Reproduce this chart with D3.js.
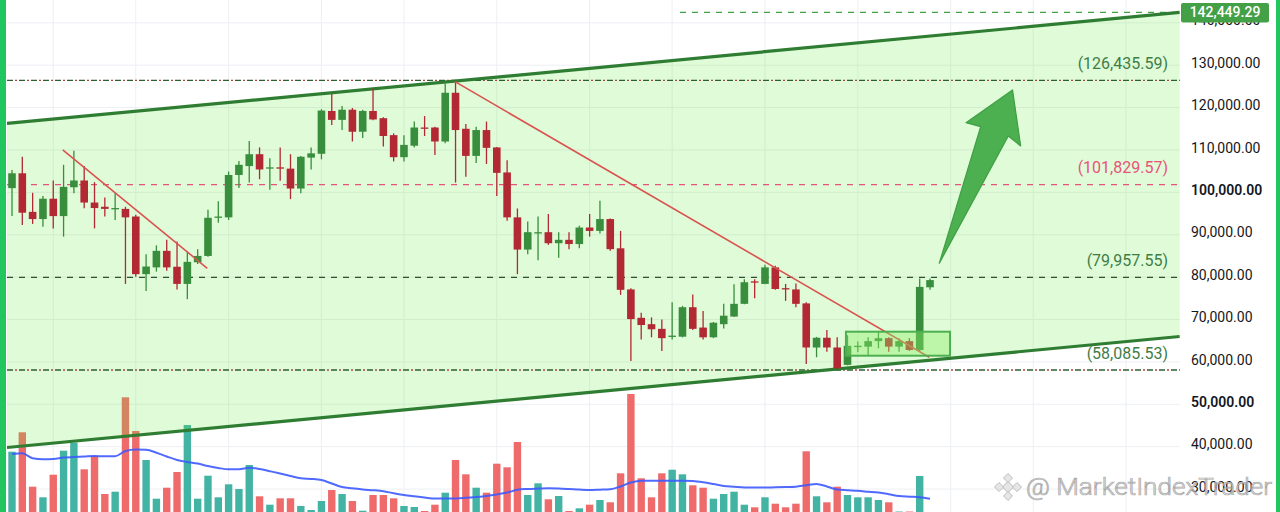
<!DOCTYPE html>
<html><head><meta charset="utf-8">
<script src="https://cdn.jsdelivr.net/npm/d3@7"></script>
<style>html,body{margin:0;padding:0;background:#fff;overflow:hidden}</style>
</head><body><svg id="c" width="1280" height="512"></svg>
<script>
// ---------- DATA ----------
const opens = [
101000,104500,95400,93700,98500,94400,101200,102800,97600,96600,
96000,96100,94300,80700,82300,86200,82450,78400,83500,85000,
94000,94100,104100,106200,109000,105600,105900,105600,100900,108200,
109100,119200,117100,119500,114300,119200,117500,113500,108300,111000,
115300,115300,112000,123500,115000,108600,114700,110600,104700,94100,
86500,90400,90600,88000,88800,87800,91700,90900,93700,86800,
77100,70400,68900,67800,65900,65950,72900,68100,65800,68900,
70700,73700,79000,78400,82300,77400,77100,73800,63400,65700,
63400,59300,63600,63600,64900,65600,63600,64900,62800,77600];
const highs = [
105300,108400,99900,99150,102800,106500,109800,106200,102400,98800,
99800,96600,94700,85400,87500,88800,88400,86000,86600,95900,
97900,104900,107400,112100,110600,108050,110600,109000,108600,110600,
119600,123200,120400,119900,119500,124500,117700,113900,113500,116700,
118000,115500,125700,126400,116100,115500,116700,110700,107600,96200,
93100,94300,94900,90600,90600,92100,94900,98000,93850,90900,
77400,71600,70500,70000,74100,73200,75900,72000,69400,73700,
78300,79500,79500,82900,82700,78400,78500,74100,65900,67500,
65800,66300,64800,65800,67100,65800,65600,65600,79700,79700];
const lows = [
94400,92300,92550,91900,91500,89550,99800,96250,91500,94300,
93500,78400,80100,76700,81300,81500,77100,74800,83100,84800,
92850,93500,101000,102300,103100,100600,102760,98400,99800,105400,
107800,115900,114700,112000,112800,117000,110800,107300,107300,110600,
113300,108800,111600,102300,103700,106900,106700,99150,93300,80700,
85400,84000,87600,84600,86600,86800,89550,90300,86200,75800,
60200,65300,65800,62600,65300,65800,67500,65300,65600,67900,
70600,73600,75000,78300,77000,74400,72900,59500,61100,62400,
58300,59200,62300,61500,63200,62400,62400,62600,62600,77000];
const closes = [
104500,95200,93700,98500,94400,101300,102800,97600,96300,96100,
96300,94100,80700,82500,86200,82300,78400,83600,85000,94000,
94300,104100,106500,109000,105400,105900,105600,100900,108400,109200,
119300,117100,119500,114300,119200,117200,113300,108300,111200,115300,
115000,112000,123500,114700,108600,114700,110500,104600,94100,86500,
90600,90600,88000,88800,87800,91700,90900,93700,86600,77000,
70100,68700,67700,65600,66200,72900,67800,65800,69250,70900,
73700,78800,78700,82300,77200,77100,73700,63400,65700,63400,
58500,63800,63800,64900,65600,63600,64900,62800,77700,79300];
const volumes = [
60.3,79.7,25.3,14.7,37.3,61.3,69.3,42.7,56,18,
20.3,114.7,81,52,13.3,24.3,40,87,13.3,36.3,
14.7,27.7,23,47,15.7,7.3,13.7,13.7,6,2,
11,22,18,11,1.3,17,17,13.7,6,5,
1,7.3,19.3,52,37.7,24.3,19.3,48.3,44.7,70,
17,28.7,12.7,16,1,3.7,7.3,12,9.7,38.7,
118,33.7,14.7,38.7,42.3,37.7,26.7,24.3,13.3,18,
20.3,7.3,4.7,14.7,8.3,4.7,8.3,60.7,15.7,9.7,
25.3,17,14.7,14.7,12,9.7,0.5,0.5,36,0];
const volumeMA = [
58,58.7,53.8,52.8,53,54.5,55,55.5,56,55.7,
55.8,61,62.5,62.2,59.3,55.5,52,50,48.4,46,
44,42.7,42.7,44.3,43,40.8,38.5,36,33.7,33.1,
32,28.5,25,23.7,22.5,21.8,20.8,18.7,17,15.7,
14.5,13.4,13.4,13.6,14.2,15,16,17.5,19.4,22.2,
23,23.4,23.7,23.5,23,22.4,22,22.3,22.7,25.5,
29.5,31.3,31.3,31.3,31.3,31.3,31,29.8,28,26,
25.3,24.6,24.4,24.5,24.7,25,25.3,26.8,28,25.5,
22.5,21.8,21.2,20.3,19.4,17.8,16,15.3,14.8,13.3];
const priceTicks = [140000,130000,120000,110000,100000,90000,80000,70000,60000,50000,40000,30000];
const boldTicks = [100000,50000];
const monthGridIdx = [4,12,21,30,38,47,56,64,73,82,91,99,108];
const levels = [126435.59, 101829.57, 79957.55, 58085.53];
const levelLabels = ["(126,435.59)","(101,829.57)","(79,957.55)","(58,085.53)"];
const targetPrice = 142449.29;
const upperChannel = [[-0.485,116253],[113.2,142449.29]];
const lowerChannel = [[-0.485,39802],[113.2,65993]];
const trendLine1 = [[4.92,110000],[18.93,82086]];
const trendLine2 = [[42.95,126115],[88.93,61085]];
const rangeBox = [[80.85,67126],[90.94,61463]];
const arrowPts = [[89.9,83266],[93.91,115497],[92.49,116443],[97.0,124157],[97.79,110943],[96.59,113302]];

// ---------- SCALES ----------
const svg = d3.select("#c");
const plotL = 7, plotR = 1180, H = 512;
const x = d3.scaleLinear().domain([0,108]).range([12,1126]);
const y = d3.scaleLinear().domain([60000,130000]).range([361.9,65.2]);
const yv = d3.scaleLinear().domain([0,130]).range([512,382]);
const UP="#388e3c", DOWN="#b22833", VUP="#43b3a4", VDOWN="#ef6b6b";
const P = p => [x(p[0]), y(p[1])];

svg.append("rect").attr("width",1280).attr("height",512).attr("fill","#fff");
svg.append("defs").append("clipPath").attr("id","plot")
  .append("rect").attr("x",plotL).attr("y",0).attr("width",plotR-plotL).attr("height",H);
const g = svg.append("g").attr("clip-path","url(#plot)");

// grid
g.append("g").selectAll("line").data(priceTicks).join("line")
  .attr("x1",plotL).attr("x2",plotR).attr("y1",d=>y(d)).attr("y2",d=>y(d))
  .attr("stroke","#eceff3").attr("stroke-width",1);
g.append("g").selectAll("line").data(monthGridIdx).join("line")
  .attr("x1",d=>x(d)).attr("x2",d=>x(d)).attr("y1",0).attr("y2",H)
  .attr("stroke","#eceff3").attr("stroke-width",1);

// volume
const idx = d3.range(opens.length);
g.append("g").selectAll("rect").data(idx.filter(i=>volumes[i]>0)).join("rect")
  .attr("x",i=>x(i)-3.7).attr("width",7.4)
  .attr("y",i=>yv(volumes[i])).attr("height",i=>H+4-yv(volumes[i]))
  .attr("fill",i=>closes[i]>=opens[i]?VUP:VDOWN);
g.append("path").datum(idx)
  .attr("d",d3.line().x(i=>x(i)).y(i=>yv(volumeMA[i])).curve(d3.curveMonotoneX))
  .attr("fill","none").attr("stroke","#3d5afe").attr("stroke-width",2).attr("opacity",0.9);

// channel fill
g.append("path")
  .attr("d", d3.line()([P(upperChannel[0]),P(upperChannel[1]),P(lowerChannel[1]),P(lowerChannel[0])])+"Z")
  .attr("fill","rgba(100,235,60,0.2)");

// horizontal levels
function hline(v, color, dash, offset, x0){
  g.append("line").attr("x1",x0!==undefined?x0:plotL).attr("x2",plotR)
   .attr("y1",y(v)).attr("y2",y(v)).attr("stroke",color).attr("stroke-width",1.3)
   .attr("stroke-dasharray",dash).attr("stroke-dashoffset",offset||0);
}
hline(levels[0],"#2f5e34","6 6");
hline(levels[0],"#b5453f","2 10",-8);
hline(levels[1],"#e8537a","6 6");
hline(levels[2],"#2f4f33","6 6");
hline(levels[3],"#2f5e34","6 6");
hline(levels[3],"#b5453f","2 10",-8);
hline(targetPrice,"#43a047","6 6",0,680);

// channel lines
[upperChannel, lowerChannel].forEach(c=>{
  g.append("line").attr("x1",P(c[0])[0]).attr("y1",P(c[0])[1]).attr("x2",P(c[1])[0]).attr("y2",P(c[1])[1])
   .attr("stroke","#2e7d32").attr("stroke-width",3.2);
});

// candles
const cg = g.append("g");
cg.selectAll("line").data(idx).join("line")
  .attr("x1",i=>x(i)).attr("x2",i=>x(i)).attr("y1",i=>y(highs[i])).attr("y2",i=>y(lows[i]))
  .attr("stroke",i=>closes[i]>=opens[i]?UP:DOWN).attr("stroke-width",1.3);
cg.selectAll("rect").data(idx).join("rect")
  .attr("x",i=>x(i)-3.8).attr("width",7.6)
  .attr("y",i=>y(Math.max(opens[i],closes[i])))
  .attr("height",i=>Math.max(1.3, Math.abs(y(opens[i])-y(closes[i]))))
  .attr("fill",i=>closes[i]>=opens[i]?UP:DOWN);

// trend lines
[trendLine1, trendLine2].forEach(t=>{
  g.append("line").attr("x1",P(t[0])[0]).attr("y1",P(t[0])[1]).attr("x2",P(t[1])[0]).attr("y2",P(t[1])[1])
   .attr("stroke","#d9534f").attr("stroke-width",1.6);
});

// range box
g.append("rect").attr("x",x(rangeBox[0][0])).attr("y",y(rangeBox[0][1]))
  .attr("width",x(rangeBox[1][0])-x(rangeBox[0][0])).attr("height",y(rangeBox[1][1])-y(rangeBox[0][1]))
  .attr("fill","rgba(140,240,100,0.4)").attr("stroke","#4caf50").attr("stroke-width",2);

// arrow
g.append("path").attr("d",d3.line().curve(d3.curveLinearClosed)(arrowPts.map(P)))
  .attr("fill","#4caf50").attr("stroke","#3f9f44").attr("stroke-width",1.2).attr("stroke-linejoin","round");

// level labels
svg.append("g").selectAll("text").data(levels).join("text")
  .attr("x",1168).attr("y",d=>y(d)-11.5).attr("text-anchor","end")
  .attr("font-family","Roboto, 'Noto Sans', sans-serif").attr("font-size",16)
  .attr("fill",(d,i)=>i===1?"#e8537a":"#3f7d46")
  .text((d,i)=>levelLabels[i]);

// price axis
const axis = d3.axisRight(y).tickValues(priceTicks).tickSize(0).tickPadding(0)
  .tickFormat(d3.format(",.2f"));
const ag = svg.append("g").attr("transform","translate(1191,0)").call(axis);
ag.select(".domain").remove();
ag.selectAll("text").attr("font-family","Roboto, 'Noto Sans', sans-serif").attr("font-size",14)
  .attr("fill","#131722").attr("dy","0.15em")
  .attr("font-weight",d=>boldTicks.includes(d)?600:400);

// target price box
const ty = y(targetPrice);
svg.append("rect").attr("x",1181).attr("y",ty-9.5).attr("width",88).attr("height",19.5).attr("rx",2)
  .attr("fill","#43a047");
svg.append("text").attr("x",1225).attr("y",ty+5).attr("text-anchor","middle")
  .attr("font-family","Roboto, 'Noto Sans', sans-serif").attr("font-size",14).attr("font-weight",500)
  .attr("fill","#fff").text(d3.format(",.2f")(targetPrice));

// watermark
const wm = svg.append("g").attr("opacity",0.85);
const lc = [1008,487];
[[0,0,4],[0,-9,3.2],[0,9,3.2],[-9,0,3.2],[9,0,3.2]].forEach(s=>{
  wm.append("rect").attr("x",lc[0]+s[0]-s[2]).attr("y",lc[1]+s[1]-s[2]).attr("width",s[2]*2).attr("height",s[2]*2)
    .attr("transform",`rotate(45 ${lc[0]+s[0]} ${lc[1]+s[1]})`)
    .attr("fill","#e2e2e2").attr("stroke","#a8a8a8").attr("stroke-width",0.8);
});
wm.append("text").attr("x",1026).attr("y",495)
  .attr("font-family","Roboto, 'Noto Sans', sans-serif").attr("font-size",23).attr("font-weight",300)
  .attr("fill","#e0e0e0").attr("stroke","#9c9c9c").attr("stroke-width",0.7)
  .attr("textLength",246).attr("lengthAdjust","spacingAndGlyphs")
  .text("@ MarketIndexTrader");

// side strips
svg.append("rect").attr("x",0).attr("y",0).attr("width",6).attr("height",H).attr("fill","#22c55e");
svg.append("rect").attr("x",1276).attr("y",0).attr("width",4).attr("height",H).attr("fill","#22c55e");
</script></body></html>
